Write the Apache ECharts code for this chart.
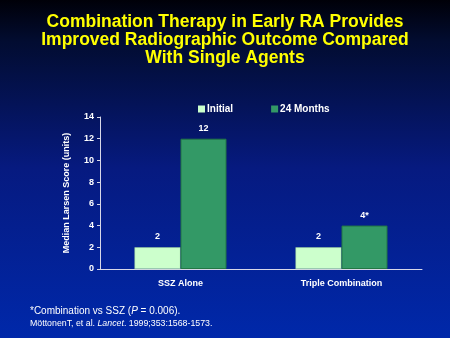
<!DOCTYPE html>
<html><head><meta charset="utf-8">
<script src="https://cdn.jsdelivr.net/npm/echarts@6/dist/echarts.min.js"></script>
<style>html,body{margin:0;padding:0;}#c{width:450px;height:338px;}</style>
</head><body><div id="c"></div>
<script>
var categories = ['SSZ Alone', 'Triple Combination'];
var initialValues = [2, 2];
var months24Values = [12, 4];
var months24Labels = ['12', '4*'];
var seriesNames = ['Initial', '24 Months'];
var yTicks = [0, 2, 4, 6, 8, 10, 12, 14];

var chart = echarts.init(document.getElementById('c'), null, {renderer: 'canvas'});
var F = 'Liberation Sans, Arial, sans-serif';
chart.setOption({
  backgroundColor: {type: 'linear', x: 0, y: 0, x2: 0, y2: 1, colorStops: [
    {offset: 0, color: '#000008'}, {offset: 0.12, color: '#020c30'}, {offset: 0.5, color: '#061a80'}, {offset: 1, color: '#0028aa'}]},
  animation: false,
  title: {
    text: 'Combination Therapy in Early RA Provides\nImproved Radiographic Outcome Compared\nWith Single Agents',
    left: 'center', top: 8,
    textStyle: {color: '#ffff00', fontFamily: F, fontWeight: 'bold', fontSize: 17.5, lineHeight: 18}
  },
  legend: {
    data: seriesNames, top: 99, left: 193, itemGap: 38,
    itemWidth: 7, itemHeight: 7, icon: 'rect',
    itemStyle: {borderWidth: 0},
    textStyle: {color: '#ffffff', fontFamily: F, fontWeight: 'bold', fontSize: 10, padding: [0,0,0,-3]}
  },
  grid: {left: 100, right: 28, top: 117, bottom: 69},
  xAxis: {
    type: 'category', data: categories,
    axisLine: {lineStyle: {color: '#d8d8e8', width: 1}},
    axisTick: {show: false},
    axisLabel: {color: '#ffffff', fontFamily: F, fontWeight: 'bold', fontSize: 9, margin: 10}
  },
  yAxis: {
    type: 'value', min: 0, max: 14, interval: 2,
    name: 'Median Larsen Score (units)', nameLocation: 'middle', nameGap: 29,
    nameTextStyle: {color: '#ffffff', fontFamily: F, fontWeight: 'bold', fontSize: 9},
    axisLine: {show: true, lineStyle: {color: '#d8d8e8'}},
    axisTick: {show: true, length: 3, inside: false, lineStyle: {color: '#d8d8e8'}},
    splitLine: {show: false},
    axisLabel: {color: '#ffffff', fontFamily: F, fontWeight: 'bold', fontSize: 9, margin: 6,
      formatter: function (v) { return yTicks.indexOf(v) >= 0 ? String(v) : ''; }}
  },
  series: [
    {name: seriesNames[0], type: 'bar', data: initialValues, barWidth: 46, barGap: '0%',
     itemStyle: {color: '#ccffcc', borderColor: '#99cc99', borderWidth: 0.5},
     label: {show: true, position: 'top', distance: 6, color: '#ffffff', fontFamily: F, fontWeight: 'bold', fontSize: 9}},
    {name: seriesNames[1], type: 'bar', data: months24Values, barWidth: 46,
     itemStyle: {color: '#339966', borderColor: '#227744', borderWidth: 1},
     label: {show: true, position: 'top', distance: 6, color: '#ffffff', fontFamily: F, fontWeight: 'bold', fontSize: 9,
       formatter: function (p) { return months24Labels[p.dataIndex]; }}}
  ],
  graphic: [
    {type: 'text', left: 30, top: 306, style: {
      text: '*Combination vs SSZ ({i|P} = 0.006).',
      rich: {i: {fontStyle: 'italic', fill: '#ffffff', fontFamily: F, fontSize: 10}},
      fill: '#ffffff', font: '10px ' + F}},
    {type: 'text', left: 30, top: 319, style: {
      text: 'MöttonenT, et al. {i|Lancet}. 1999;353:1568-1573.',
      rich: {i: {fontStyle: 'italic', fill: '#ffffff', fontFamily: F, fontSize: 8.8}},
      fill: '#ffffff', font: '8.8px ' + F}}
  ]
});
</script></body></html>
